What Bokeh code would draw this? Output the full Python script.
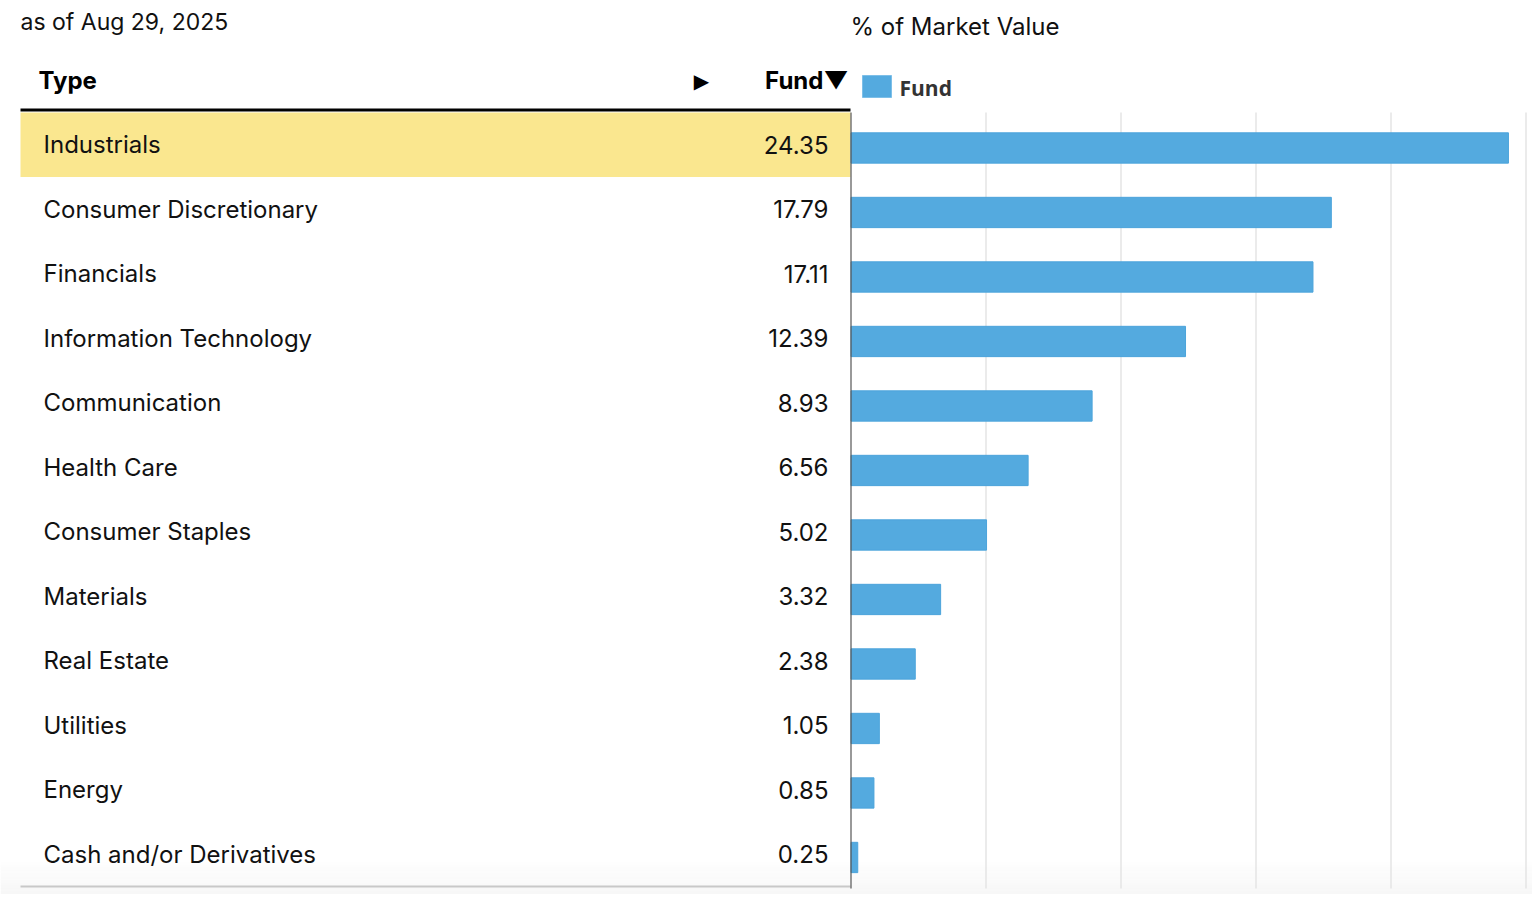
from bokeh.plotting import figure
from bokeh.models import ColumnDataSource, Range1d
from bokeh.core.properties import value
from bokeh.transform import dodge
from bokeh.embed import file_html
from bokeh.resources import INLINE

# ---- data ----
categories = ["Industrials", "Consumer Discretionary", "Financials", "Information Technology",
              "Communication", "Health Care", "Consumer Staples", "Materials", "Real Estate",
              "Utilities", "Energy", "Cash and/or Derivatives"]
fund = [24.35, 17.79, 17.11, 12.39, 8.93, 6.56, 5.02, 3.32, 2.38, 1.05, 0.85, 0.25]
grid_ticks = [5, 10, 15, 20, 25]
title_text = "as of Aug 29, 2025"
chart_title = "% of Market Value"
col_type = "Type"
col_fund = "Fund\u25bc"
series_name = "Fund"

FONT = "Inter"
W, H = 1532, 894
ROW_H = 64.5
TOP = 112          # canvas px where first row starts
X0 = 850.5         # canvas px of value 0
PXU = 27.0         # px per percent
n = len(categories)

y_top = -0.5 - TOP / ROW_H
y_bot = -0.5 + (H - TOP) / ROW_H

p = figure(width=W, height=H, output_backend="svg", toolbar_location=None,
           x_range=Range1d(-X0 / PXU, (W - X0) / PXU),
           y_range=Range1d(y_bot, y_top),
           min_border=0, outline_line_color=None,
           x_axis_location=None, y_axis_location=None)
p.extra_x_ranges = {"px": Range1d(0, W)}
p.extra_y_ranges = {"px": Range1d(H, 0)}
p.grid.visible = False
p.background_fill_color = "white"
p.border_fill_color = "white"

rows = ColumnDataSource(dict(
    y=list(range(n)),
    cat=categories,
    val=fund,
    label=[f"{v:.2f}" for v in fund],
))

# faint bottom shading
shade_steps = list(range(12))
p.quad(left=0, right=W,
       top=[858 + 3 * k for k in shade_steps], bottom=[861 + 3 * k for k in shade_steps],
       x_range_name="px", y_range_name="px",
       fill_color="#e8e8e8", fill_alpha=[0.02 + 0.03 * k for k in shade_steps], line_color=None)

# highlight first row
p.quad(left=20, right=850, bottom=0.5, top=-0.5, x_range_name="px",
       fill_color="#FAE78F", line_color=None)

# header rule and bottom rule
p.segment(x0=20, x1=850, y0=109.5, y1=109.5, x_range_name="px", y_range_name="px",
          line_color="black", line_width=3)
p.segment(x0=20, x1=850, y0=[n - 0.5], y1=[n - 0.5], x_range_name="px",
          line_color="#c8c8c8", line_width=2)

# grid lines
p.segment(x0=grid_ticks, x1=grid_ticks, y0=-0.5, y1=n - 0.47,
          line_color="#e4e4e4", line_width=1.5)

# bars
p.hbar(y=dodge("y", 0.05), left=0, right="val", height=0.47, source=rows,
       fill_color="#54AADF", line_color="#4CA4DB", line_width=1)

# axis line
p.segment(x0=[0], x1=[0], y0=-0.5, y1=n - 0.47, line_color="#555555", line_width=1.2)

# table text
p.text(x=43, y="y", text="cat", source=rows, x_range_name="px",
       text_font=value(FONT), text_font_size=value("24px"), text_baseline="middle",
       text_color="#111111")
p.text(x=828, y="y", text="label", source=rows, x_range_name="px",
       text_font=value(FONT), text_font_size=value("24px"), text_baseline="middle",
       text_align="right", text_color="#111111")

# headers
p.text(x=[20], y=[21], text=[title_text], x_range_name="px", y_range_name="px",
       text_font=value(FONT), text_font_size=value("23px"), text_baseline="middle",
       text_color="#111111")
p.text(x=[850], y=[26], text=[chart_title], x_range_name="px", y_range_name="px",
       text_font=value(FONT), text_font_size=value("24px"), text_baseline="middle",
       text_color="#111111")
p.text(x=[38], y=[80], text=[col_type], x_range_name="px", y_range_name="px",
       text_font=value(FONT), text_font_size=value("24px"), text_font_style="bold",
       text_baseline="middle", text_color="black")
p.text(x=[701], y=[80], text=["\u25b6"], x_range_name="px", y_range_name="px",
       text_font=value("DejaVu Sans"), text_font_size=value("20px"), text_align="center",
       text_baseline="middle", text_color="black")
p.text(x=[848], y=[80], text=[col_fund], x_range_name="px", y_range_name="px",
       text_font=value(FONT), text_font_size=value("24px"), text_font_style="bold",
       text_align="right", text_baseline="middle", text_color="black")

# legend
p.quad(left=[862], right=[891], top=[75], bottom=[97], x_range_name="px", y_range_name="px",
       fill_color="#54AADF", line_color="#7DBFE8", line_width=1)
p.text(x=[899], y=[87], text=[series_name], x_range_name="px", y_range_name="px",
       text_font=value("Open Sans"), text_font_size=value("21px"), text_font_style="bold",
       text_baseline="middle", text_color="#333333")

open("out.html", "w").write(file_html(p, INLINE))
